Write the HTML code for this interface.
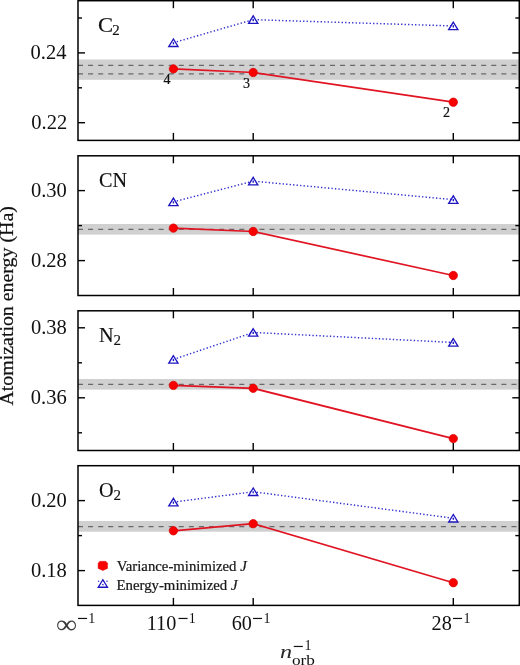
<!DOCTYPE html>
<html><head><meta charset="utf-8"><style>
html,body{margin:0;padding:0;background:#fff;}
body{width:520px;height:665px;overflow:hidden;}
svg{display:block;}
text{font-family:"Liberation Serif", "DejaVu Serif", serif;fill:#111;}
.b{stroke:#111;stroke-width:0.22px;}
.b2{stroke:#111;stroke-width:0.15px;}
</style></head><body>
<svg width="520" height="665" viewBox="0 0 520 665">
<g>
<rect x="78.0" y="59.5" width="441.29999999999995" height="20.30" fill="#d0d0d0"/>
<line x1="78.0" y1="65.35" x2="519.3" y2="65.35" stroke="#686868" stroke-width="1.3" stroke-dasharray="5.0 5.08"/>
<line x1="78.0" y1="73.95" x2="519.3" y2="73.95" stroke="#686868" stroke-width="1.3" stroke-dasharray="5.0 5.08"/>
<polyline points="173.4,42.75 253.2,19.65 453.3,25.95" fill="none" stroke="#3030d0" stroke-width="1.45" stroke-dasharray="1.35 2.15"/>
<polyline points="173.4,68.9 253.2,72.5 453.3,102.2" fill="none" stroke="#e01422" stroke-width="1.7"/>
<polygon points="173.40,39.00 168.80,46.47 178.00,46.47" fill="#fff" stroke="#1c14c0" stroke-width="1.35" stroke-linejoin="miter"/>
<line x1="173.4" y1="42.15" x2="173.4" y2="44.35" stroke="#1c14c0" stroke-width="1.4"/>
<polygon points="253.20,15.90 248.60,23.37 257.80,23.37" fill="#fff" stroke="#1c14c0" stroke-width="1.35" stroke-linejoin="miter"/>
<line x1="253.2" y1="19.049999999999997" x2="253.2" y2="21.25" stroke="#1c14c0" stroke-width="1.4"/>
<polygon points="453.30,22.20 448.70,29.67 457.90,29.67" fill="#fff" stroke="#1c14c0" stroke-width="1.35" stroke-linejoin="miter"/>
<line x1="453.3" y1="25.349999999999998" x2="453.3" y2="27.55" stroke="#1c14c0" stroke-width="1.4"/>
<circle cx="173.4" cy="68.9" r="4.2" fill="#f80000" stroke="#d80000" stroke-width="0.7"/>
<circle cx="253.2" cy="72.5" r="4.2" fill="#f80000" stroke="#d80000" stroke-width="0.7"/>
<circle cx="453.3" cy="102.2" r="4.2" fill="#f80000" stroke="#d80000" stroke-width="0.7"/>
<line x1="78.0" y1="52.9" x2="85.0" y2="52.9" stroke="#000" stroke-width="1.4"/>
<line x1="519.3" y1="52.9" x2="512.3" y2="52.9" stroke="#000" stroke-width="1.4"/>
<text x="66.42" y="58.8" font-size="20.2" text-anchor="end" textLength="35.9" lengthAdjust="spacingAndGlyphs">0.24</text>
<line x1="78.0" y1="122.7" x2="85.0" y2="122.7" stroke="#000" stroke-width="1.4"/>
<line x1="519.3" y1="122.7" x2="512.3" y2="122.7" stroke="#000" stroke-width="1.4"/>
<text x="67.21" y="128.6" font-size="20.2" text-anchor="end" textLength="35.9" lengthAdjust="spacingAndGlyphs">0.22</text>
<line x1="78.0" y1="18.0" x2="82.0" y2="18.0" stroke="#000" stroke-width="1.4"/>
<line x1="519.3" y1="18.0" x2="515.3" y2="18.0" stroke="#000" stroke-width="1.4"/>
<line x1="78.0" y1="87.8" x2="82.0" y2="87.8" stroke="#000" stroke-width="1.4"/>
<line x1="519.3" y1="87.8" x2="515.3" y2="87.8" stroke="#000" stroke-width="1.4"/>
<line x1="173.4" y1="0.7" x2="173.4" y2="8.2" stroke="#000" stroke-width="1.4"/>
<line x1="173.4" y1="140.39999999999998" x2="173.4" y2="132.89999999999998" stroke="#000" stroke-width="1.4"/>
<line x1="253.2" y1="0.7" x2="253.2" y2="8.2" stroke="#000" stroke-width="1.4"/>
<line x1="253.2" y1="140.39999999999998" x2="253.2" y2="132.89999999999998" stroke="#000" stroke-width="1.4"/>
<line x1="453.3" y1="0.7" x2="453.3" y2="8.2" stroke="#000" stroke-width="1.4"/>
<line x1="453.3" y1="140.39999999999998" x2="453.3" y2="132.89999999999998" stroke="#000" stroke-width="1.4"/>
<rect x="78.0" y="0.7" width="441.30" height="139.7" fill="none" stroke="#000" stroke-width="1.5"/>
<text transform="translate(98.07,31.9) scale(1.12,1)" font-size="20.2" class="b2">C</text>
<text x="112.24" y="35.0" font-size="15" class="b2">2</text>
</g>
<g>
<rect x="78.0" y="224.0" width="441.29999999999995" height="10.60" fill="#d0d0d0"/>
<line x1="78.0" y1="229.3" x2="519.3" y2="229.3" stroke="#686868" stroke-width="1.3" stroke-dasharray="5.0 5.08"/>
<polyline points="173.4,201.85 253.2,181.15 453.3,199.65" fill="none" stroke="#3030d0" stroke-width="1.45" stroke-dasharray="1.35 2.15"/>
<polyline points="173.4,228.1 253.2,231.5 453.3,275.5" fill="none" stroke="#e01422" stroke-width="1.7"/>
<polygon points="173.40,198.10 168.80,205.57 178.00,205.57" fill="#fff" stroke="#1c14c0" stroke-width="1.35" stroke-linejoin="miter"/>
<line x1="173.4" y1="201.25" x2="173.4" y2="203.45" stroke="#1c14c0" stroke-width="1.4"/>
<polygon points="253.20,177.40 248.60,184.87 257.80,184.87" fill="#fff" stroke="#1c14c0" stroke-width="1.35" stroke-linejoin="miter"/>
<line x1="253.2" y1="180.55" x2="253.2" y2="182.75" stroke="#1c14c0" stroke-width="1.4"/>
<polygon points="453.30,195.90 448.70,203.37 457.90,203.37" fill="#fff" stroke="#1c14c0" stroke-width="1.35" stroke-linejoin="miter"/>
<line x1="453.3" y1="199.05" x2="453.3" y2="201.25" stroke="#1c14c0" stroke-width="1.4"/>
<circle cx="173.4" cy="228.1" r="4.2" fill="#f80000" stroke="#d80000" stroke-width="0.7"/>
<circle cx="253.2" cy="231.5" r="4.2" fill="#f80000" stroke="#d80000" stroke-width="0.7"/>
<circle cx="453.3" cy="275.5" r="4.2" fill="#f80000" stroke="#d80000" stroke-width="0.7"/>
<line x1="78.0" y1="190.6" x2="85.0" y2="190.6" stroke="#000" stroke-width="1.4"/>
<line x1="519.3" y1="190.6" x2="512.3" y2="190.6" stroke="#000" stroke-width="1.4"/>
<text x="66.87" y="196.5" font-size="20.2" text-anchor="end" textLength="35.9" lengthAdjust="spacingAndGlyphs">0.30</text>
<line x1="78.0" y1="260.6" x2="85.0" y2="260.6" stroke="#000" stroke-width="1.4"/>
<line x1="519.3" y1="260.6" x2="512.3" y2="260.6" stroke="#000" stroke-width="1.4"/>
<text x="66.87" y="266.5" font-size="20.2" text-anchor="end" textLength="35.9" lengthAdjust="spacingAndGlyphs">0.28</text>
<line x1="78.0" y1="225.6" x2="82.0" y2="225.6" stroke="#000" stroke-width="1.4"/>
<line x1="519.3" y1="225.6" x2="515.3" y2="225.6" stroke="#000" stroke-width="1.4"/>
<line x1="173.4" y1="155.8" x2="173.4" y2="163.3" stroke="#000" stroke-width="1.4"/>
<line x1="173.4" y1="295.5" x2="173.4" y2="288.0" stroke="#000" stroke-width="1.4"/>
<line x1="253.2" y1="155.8" x2="253.2" y2="163.3" stroke="#000" stroke-width="1.4"/>
<line x1="253.2" y1="295.5" x2="253.2" y2="288.0" stroke="#000" stroke-width="1.4"/>
<line x1="453.3" y1="155.8" x2="453.3" y2="163.3" stroke="#000" stroke-width="1.4"/>
<line x1="453.3" y1="295.5" x2="453.3" y2="288.0" stroke="#000" stroke-width="1.4"/>
<rect x="78.0" y="155.8" width="441.30" height="139.7" fill="none" stroke="#000" stroke-width="1.5"/>
<text x="99.0" y="187.0" font-size="20.2" class="b2">CN</text>
</g>
<g>
<rect x="78.0" y="379.0" width="441.29999999999995" height="10.60" fill="#d0d0d0"/>
<line x1="78.0" y1="384.4" x2="519.3" y2="384.4" stroke="#686868" stroke-width="1.3" stroke-dasharray="5.0 5.08"/>
<polyline points="173.4,359.45 253.2,332.45 453.3,342.45" fill="none" stroke="#3030d0" stroke-width="1.45" stroke-dasharray="1.35 2.15"/>
<polyline points="173.4,385.4 253.2,388.3 453.3,438.6" fill="none" stroke="#e01422" stroke-width="1.7"/>
<polygon points="173.40,355.70 168.80,363.17 178.00,363.17" fill="#fff" stroke="#1c14c0" stroke-width="1.35" stroke-linejoin="miter"/>
<line x1="173.4" y1="358.84999999999997" x2="173.4" y2="361.05" stroke="#1c14c0" stroke-width="1.4"/>
<polygon points="253.20,328.70 248.60,336.17 257.80,336.17" fill="#fff" stroke="#1c14c0" stroke-width="1.35" stroke-linejoin="miter"/>
<line x1="253.2" y1="331.84999999999997" x2="253.2" y2="334.05" stroke="#1c14c0" stroke-width="1.4"/>
<polygon points="453.30,338.70 448.70,346.17 457.90,346.17" fill="#fff" stroke="#1c14c0" stroke-width="1.35" stroke-linejoin="miter"/>
<line x1="453.3" y1="341.84999999999997" x2="453.3" y2="344.05" stroke="#1c14c0" stroke-width="1.4"/>
<circle cx="173.4" cy="385.4" r="4.2" fill="#f80000" stroke="#d80000" stroke-width="0.7"/>
<circle cx="253.2" cy="388.3" r="4.2" fill="#f80000" stroke="#d80000" stroke-width="0.7"/>
<circle cx="453.3" cy="438.6" r="4.2" fill="#f80000" stroke="#d80000" stroke-width="0.7"/>
<line x1="78.0" y1="327.8" x2="85.0" y2="327.8" stroke="#000" stroke-width="1.4"/>
<line x1="519.3" y1="327.8" x2="512.3" y2="327.8" stroke="#000" stroke-width="1.4"/>
<text x="66.87" y="333.7" font-size="20.2" text-anchor="end" textLength="35.9" lengthAdjust="spacingAndGlyphs">0.38</text>
<line x1="78.0" y1="397.8" x2="85.0" y2="397.8" stroke="#000" stroke-width="1.4"/>
<line x1="519.3" y1="397.8" x2="512.3" y2="397.8" stroke="#000" stroke-width="1.4"/>
<text x="66.71" y="403.7" font-size="20.2" text-anchor="end" textLength="35.9" lengthAdjust="spacingAndGlyphs">0.36</text>
<line x1="78.0" y1="362.8" x2="82.0" y2="362.8" stroke="#000" stroke-width="1.4"/>
<line x1="519.3" y1="362.8" x2="515.3" y2="362.8" stroke="#000" stroke-width="1.4"/>
<line x1="78.0" y1="432.8" x2="82.0" y2="432.8" stroke="#000" stroke-width="1.4"/>
<line x1="519.3" y1="432.8" x2="515.3" y2="432.8" stroke="#000" stroke-width="1.4"/>
<line x1="173.4" y1="310.8" x2="173.4" y2="318.3" stroke="#000" stroke-width="1.4"/>
<line x1="173.4" y1="450.5" x2="173.4" y2="443.0" stroke="#000" stroke-width="1.4"/>
<line x1="253.2" y1="310.8" x2="253.2" y2="318.3" stroke="#000" stroke-width="1.4"/>
<line x1="253.2" y1="450.5" x2="253.2" y2="443.0" stroke="#000" stroke-width="1.4"/>
<line x1="453.3" y1="310.8" x2="453.3" y2="318.3" stroke="#000" stroke-width="1.4"/>
<line x1="453.3" y1="450.5" x2="453.3" y2="443.0" stroke="#000" stroke-width="1.4"/>
<rect x="78.0" y="310.8" width="441.30" height="139.7" fill="none" stroke="#000" stroke-width="1.5"/>
<text x="99.0" y="342.0" font-size="20.2" class="b2">N<tspan font-size="15" dy="3.1">2</tspan></text>
</g>
<g>
<rect x="78.0" y="521.0" width="441.29999999999995" height="10.70" fill="#d0d0d0"/>
<line x1="78.0" y1="526.6" x2="519.3" y2="526.6" stroke="#686868" stroke-width="1.3" stroke-dasharray="5.0 5.08"/>
<polyline points="173.4,502.15 253.2,491.75 453.3,518.25" fill="none" stroke="#3030d0" stroke-width="1.45" stroke-dasharray="1.35 2.15"/>
<polyline points="173.4,530.8 253.2,523.7 453.3,582.7" fill="none" stroke="#e01422" stroke-width="1.7"/>
<polygon points="173.40,498.40 168.80,505.87 178.00,505.87" fill="#fff" stroke="#1c14c0" stroke-width="1.35" stroke-linejoin="miter"/>
<line x1="173.4" y1="501.54999999999995" x2="173.4" y2="503.75" stroke="#1c14c0" stroke-width="1.4"/>
<polygon points="253.20,488.00 248.60,495.47 257.80,495.47" fill="#fff" stroke="#1c14c0" stroke-width="1.35" stroke-linejoin="miter"/>
<line x1="253.2" y1="491.15" x2="253.2" y2="493.35" stroke="#1c14c0" stroke-width="1.4"/>
<polygon points="453.30,514.50 448.70,521.97 457.90,521.97" fill="#fff" stroke="#1c14c0" stroke-width="1.35" stroke-linejoin="miter"/>
<line x1="453.3" y1="517.65" x2="453.3" y2="519.85" stroke="#1c14c0" stroke-width="1.4"/>
<circle cx="173.4" cy="530.8" r="4.2" fill="#f80000" stroke="#d80000" stroke-width="0.7"/>
<circle cx="253.2" cy="523.7" r="4.2" fill="#f80000" stroke="#d80000" stroke-width="0.7"/>
<circle cx="453.3" cy="582.7" r="4.2" fill="#f80000" stroke="#d80000" stroke-width="0.7"/>
<line x1="78.0" y1="500.6" x2="85.0" y2="500.6" stroke="#000" stroke-width="1.4"/>
<line x1="519.3" y1="500.6" x2="512.3" y2="500.6" stroke="#000" stroke-width="1.4"/>
<text x="66.87" y="506.5" font-size="20.2" text-anchor="end" textLength="35.9" lengthAdjust="spacingAndGlyphs">0.20</text>
<line x1="78.0" y1="570.6" x2="85.0" y2="570.6" stroke="#000" stroke-width="1.4"/>
<line x1="519.3" y1="570.6" x2="512.3" y2="570.6" stroke="#000" stroke-width="1.4"/>
<text x="66.87" y="576.5" font-size="20.2" text-anchor="end" textLength="35.9" lengthAdjust="spacingAndGlyphs">0.18</text>
<line x1="78.0" y1="535.6" x2="82.0" y2="535.6" stroke="#000" stroke-width="1.4"/>
<line x1="519.3" y1="535.6" x2="515.3" y2="535.6" stroke="#000" stroke-width="1.4"/>
<line x1="173.4" y1="465.7" x2="173.4" y2="473.2" stroke="#000" stroke-width="1.4"/>
<line x1="173.4" y1="605.4" x2="173.4" y2="597.9" stroke="#000" stroke-width="1.4"/>
<line x1="253.2" y1="465.7" x2="253.2" y2="473.2" stroke="#000" stroke-width="1.4"/>
<line x1="253.2" y1="605.4" x2="253.2" y2="597.9" stroke="#000" stroke-width="1.4"/>
<line x1="453.3" y1="465.7" x2="453.3" y2="473.2" stroke="#000" stroke-width="1.4"/>
<line x1="453.3" y1="605.4" x2="453.3" y2="597.9" stroke="#000" stroke-width="1.4"/>
<rect x="78.0" y="465.7" width="441.30" height="139.7" fill="none" stroke="#000" stroke-width="1.5"/>
<text x="99.0" y="496.9" font-size="20.2" class="b2">O<tspan font-size="15" dy="3.1">2</tspan></text>
</g>
<text x="163.62" y="83.7" font-size="14.0" class="b">4</text><text x="242.93" y="87.6" font-size="14.0" class="b">3</text><text x="442.98" y="117.3" font-size="14.0" class="b">2</text><polygon points="99.8,561.3 105.8,561.3 107.6,563.2 107.6,568.4 102.85,570.6 98.1,568.4 98.1,563.2" fill="#f80000" stroke="#e00000" stroke-width="0.4"/><polygon points="102.85,579.75 98.25,587.22 107.45,587.22" fill="#fff" stroke="#1c14c0" stroke-width="1.35"/><line x1="102.9" y1="584.0" x2="102.9" y2="585.3" stroke="#1c14c0" stroke-width="1.3"/><circle cx="98.6" cy="581.2" r="0.75" fill="#3030d0"/><circle cx="107.0" cy="581.2" r="0.75" fill="#3030d0"/><text x="116.74" y="571.2" font-size="14.6" textLength="130.0" lengthAdjust="spacingAndGlyphs" class="b" style="fill:#1a1a1a">Variance-minimized <tspan font-style="italic">J</tspan></text><text x="116.48" y="589.5" font-size="14.6" textLength="121.0" lengthAdjust="spacingAndGlyphs" class="b" style="fill:#1a1a1a">Energy-minimized <tspan font-style="italic">J</tspan></text><text transform="translate(55.97,633.3) scale(1.12,1)" font-size="26.5" style="fill:#3c3c3c">∞</text><text x="76.36" y="623.4" font-size="14.5" style="font-family:'DejaVu Sans', sans-serif">−</text><text x="88.37" y="623.0" font-size="14.0">1</text><text x="146.72" y="630.0" font-size="20.2">110</text>
<text x="176.66" y="623.4" font-size="14.5" style="font-family:'DejaVu Sans', sans-serif">−</text>
<text x="188.77" y="623.0" font-size="14.0">1</text><text x="231.63" y="630.0" font-size="20.2">60</text>
<text x="251.16" y="623.4" font-size="14.5" style="font-family:'DejaVu Sans', sans-serif">−</text>
<text x="263.57" y="623.0" font-size="14.0">1</text><text x="431.61" y="630.0" font-size="20.2">28</text>
<text x="451.16" y="623.4" font-size="14.5" style="font-family:'DejaVu Sans', sans-serif">−</text>
<text x="463.57" y="623.0" font-size="14.0">1</text><text transform="translate(279.93,658.1) scale(1.3,1)" font-size="18.6" font-style="italic" style="fill:#2a2a2a">n</text><text x="292.06" y="650.7" font-size="14.5" style="font-family:'DejaVu Sans', sans-serif">−</text><text x="304.57" y="650.0" font-size="14.0">1</text><text x="291.97" y="664.6" font-size="14.0" textLength="23.0" lengthAdjust="spacingAndGlyphs">orb</text><text transform="translate(13.35,405.49) rotate(-90)" font-size="18.5" class="b" textLength="199.3" lengthAdjust="spacingAndGlyphs">Atomization energy (Ha)</text></svg>
</body></html>
